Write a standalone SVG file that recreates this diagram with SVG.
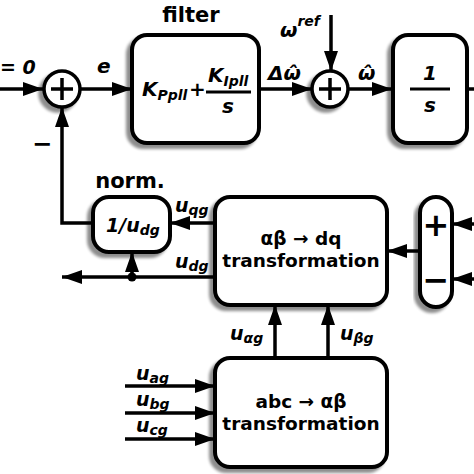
<svg xmlns="http://www.w3.org/2000/svg" width="474" height="474" viewBox="0 0 474 474">
<style>
text{font-family:"DejaVu Sans",Verdana,sans-serif;font-weight:bold;fill:#000}
.it{font-style:italic}
.lbl{font-size:20px;font-style:italic}
.ttl{font-size:21px}
.blk{font-size:18.5px}
.sub{font-size:14px}
.box{fill:#fff;stroke:#000;stroke-width:4}
.ln{fill:none;stroke:#000;stroke-width:3.5}
.fr{stroke:#000;stroke-width:3}
.sg{font-weight:bold;font-size:32px}
</style>
<defs>
<marker id="ah" viewBox="0 0 20 14" refX="20" refY="7" markerWidth="20" markerHeight="14" markerUnits="userSpaceOnUse" orient="auto">
<path d="M0,0 L20,7 L0,14 z" fill="#000"/>
</marker>
<filter id="sh" x="-20%" y="-20%" width="140%" height="140%">
<feGaussianBlur in="SourceAlpha" stdDeviation="1.5"/>
<feOffset dx="-4" dy="4" result="b"/>
<feComponentTransfer><feFuncA type="linear" slope="0.45"/></feComponentTransfer>
<feMerge><feMergeNode/><feMergeNode in="SourceGraphic"/></feMerge>
</filter>
</defs>
<rect width="474" height="474" fill="#fff"/>

<g id="connectors">
<path class="ln" d="M0,89 H43" marker-end="url(#ah)"/>
<path class="ln" d="M80,89 H132" marker-end="url(#ah)"/>
<path class="ln" d="M259,89 H312" marker-end="url(#ah)"/>
<path class="ln" d="M331,15 V71" marker-end="url(#ah)"/>
<path class="ln" d="M348,89 H392" marker-end="url(#ah)"/>
<path class="ln" d="M467,89 H474"/>
<path class="ln" d="M93,223 H62 V107" marker-end="url(#ah)"/>
<path class="ln" d="M215,223 H170" marker-end="url(#ah)"/>
<path class="ln" d="M215,277 H62" marker-end="url(#ah)"/>
<circle cx="132" cy="277" r="4.5" fill="#000"/>
<path class="ln" d="M132,277 V252" marker-end="url(#ah)"/>
<path class="ln" d="M420,251 H387" marker-end="url(#ah)"/>
<path class="ln" d="M474,224 H452" marker-end="url(#ah)"/>
<path class="ln" d="M474,279 H452" marker-end="url(#ah)"/>
<path class="ln" d="M275,358 V305" marker-end="url(#ah)"/>
<path class="ln" d="M328,358 V305" marker-end="url(#ah)"/>
<path class="ln" d="M125,386 H215" marker-end="url(#ah)"/>
<path class="ln" d="M125,413 H215" marker-end="url(#ah)"/>
<path class="ln" d="M125,439 H215" marker-end="url(#ah)"/>
</g>

<g id="labels">
<text class="lbl" x="0" y="74" style="font-size:19px">= 0</text>
<text class="lbl" x="97" y="73">e</text>
<text class="lbl" x="42" y="152" text-anchor="middle" style="font-size:24px;font-style:normal">−</text>
<text class="lbl" x="268" y="80">Δω̂</text>
<text class="lbl" x="358" y="80">ω̂</text>
<text class="lbl" x="280" y="37">ω<tspan class="sub" dy="-11">ref</tspan></text>
<text class="lbl" x="175" y="212" style="font-size:19px">u<tspan class="sub" dy="3">qg</tspan></text>
<text class="lbl" x="175" y="268" style="font-size:19px">u<tspan class="sub" dy="3">dg</tspan></text>
<text class="lbl" x="230" y="340" style="font-size:19px">u<tspan class="sub" dy="3">αg</tspan></text>
<text class="lbl" x="340" y="340" style="font-size:19px">u<tspan class="sub" dy="3">βg</tspan></text>
<text class="lbl" x="136" y="380" style="font-size:19px">u<tspan class="sub" dy="3">ag</tspan></text>
<text class="lbl" x="136" y="406" style="font-size:19px">u<tspan class="sub" dy="3">bg</tspan></text>
<text class="lbl" x="136" y="432" style="font-size:19px">u<tspan class="sub" dy="3">cg</tspan></text>
</g>

<g id="sum1">
<circle cx="62" cy="89" r="18" class="box" style="stroke-width:3.5" filter="url(#sh)"/>
<path d="M51,89 H73 M62,78 V100" stroke="#000" stroke-width="3.5"/>
</g>

<g id="filter">
<text class="ttl" x="191" y="22" text-anchor="middle">filter</text>
<rect class="box" x="132" y="35" width="127" height="108" rx="15" filter="url(#sh)"/>
<text class="lbl" x="142" y="96">K<tspan class="sub" dy="4">Ppll</tspan><tspan dy="-4" x="189">+</tspan></text>
<text class="lbl" x="208" y="82">K<tspan class="sub" dy="4">Ipll</tspan></text>
<line class="fr" x1="206" y1="92" x2="251" y2="92"/>
<text class="lbl" x="228" y="113" text-anchor="middle">s</text>
</g>

<g id="sum2">
<circle cx="330" cy="89" r="18" class="box" style="stroke-width:3.5" filter="url(#sh)"/>
<path d="M319,89 H341 M330,78 V100" stroke="#000" stroke-width="3.5"/>
</g>

<g id="integrator">
<rect class="box" x="393" y="35" width="74" height="108" rx="15" filter="url(#sh)"/>
<text class="lbl" x="430" y="80" text-anchor="middle">1</text>
<line class="fr" x1="410" y1="89" x2="450" y2="89"/>
<text class="lbl" x="430" y="112" text-anchor="middle">s</text>
</g>

<g id="norm">
<text class="ttl" x="130" y="188" text-anchor="middle">norm.</text>
<rect class="box" x="93" y="197" width="77" height="55" rx="16" filter="url(#sh)"/>
<text class="lbl" x="106" y="232" style="font-size:19px">1/u<tspan class="sub" dy="3">dg</tspan></text>
</g>

<g id="dq">
<rect class="box" x="215" y="197" width="172" height="108" rx="15" filter="url(#sh)"/>
<text class="blk" x="301" y="245" text-anchor="middle">αβ → dq</text>
<text class="blk" x="301" y="267" text-anchor="middle">transformation</text>
</g>

<g id="pm">
<rect class="box" x="420" y="197" width="32" height="110" rx="16" filter="url(#sh)"/>
<text class="sg" x="436" y="236" text-anchor="middle">+</text>
<text class="sg" x="436" y="291" text-anchor="middle">−</text>
</g>

<g id="abc">
<rect class="box" x="215" y="358" width="172" height="109" rx="15" filter="url(#sh)"/>
<text class="blk" x="301" y="408" text-anchor="middle">abc → αβ</text>
<text class="blk" x="301" y="430" text-anchor="middle">transformation</text>
</g>
</svg>
